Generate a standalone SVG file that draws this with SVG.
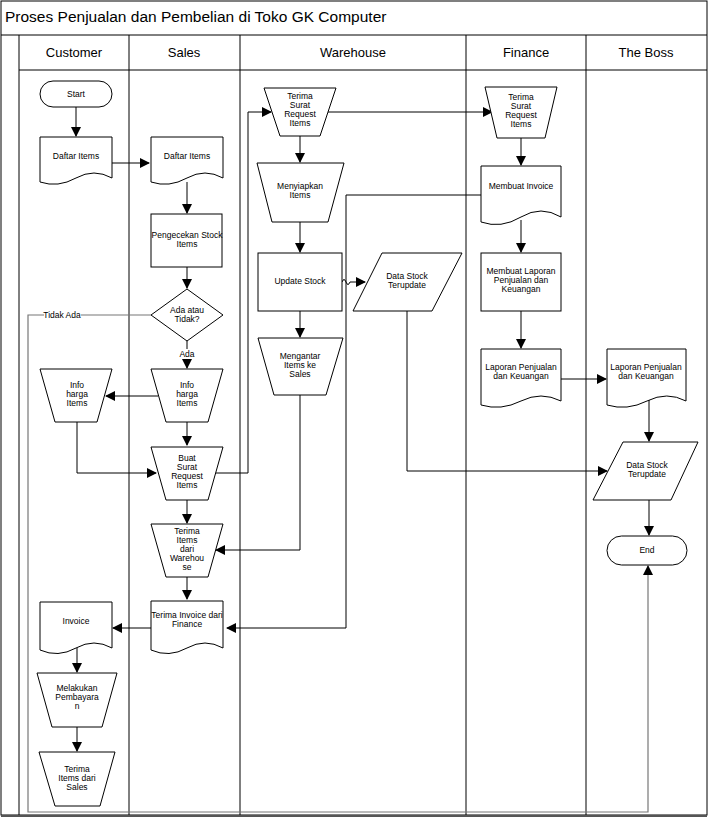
<svg xmlns="http://www.w3.org/2000/svg" width="710" height="823" viewBox="0 0 710 823">
<defs>
<marker id="ah" markerWidth="10" markerHeight="10" refX="9" refY="5" orient="auto" markerUnits="userSpaceOnUse"><path d="M0,0 L10,5 L0,10 z" fill="#000"/></marker>
<style>
.s{fill:#fff;stroke:#000;stroke-width:1}
.t{font-family:"Liberation Sans",Arial,sans-serif;font-size:8.5px;text-anchor:middle;fill:#000}
.h{font-family:"Liberation Sans",Arial,sans-serif;font-size:13px;text-anchor:middle;fill:#000}
.c{fill:none;stroke:#000;stroke-width:1;marker-end:url(#ah)}
.g{fill:none;stroke:#777;stroke-width:1.2}
.ln{fill:none;stroke:#000;stroke-width:1}
</style>
</defs>
<rect width="710" height="823" fill="#fff"/>
<g id="frame">
<rect x="1" y="1" width="706" height="814" class="s"/>
<line x1="1" y1="35" x2="707" y2="35" class="ln"/>
<line x1="19" y1="35" x2="19" y2="815" class="ln"/>
<line x1="19" y1="70" x2="707" y2="70" class="ln"/>
<line x1="129" y1="35" x2="129" y2="815" class="ln"/>
<line x1="240" y1="35" x2="240" y2="815" class="ln"/>
<line x1="466" y1="35" x2="466" y2="815" class="ln"/>
<line x1="586" y1="35" x2="586" y2="815" class="ln"/>
<line x1="1" y1="816" x2="707" y2="816" stroke="#555" stroke-width="2"/>
<text x="5" y="22" font-family="Liberation Sans,Arial,sans-serif" font-size="15.5px">Proses Penjualan dan Pembelian di Toko GK Computer</text>
<text x="74" y="57" class="h">Customer</text>
<text x="184" y="57" class="h">Sales</text>
<text x="353" y="57" class="h">Warehouse</text>
<text x="526" y="57" class="h">Finance</text>
<text x="646" y="57" class="h">The Boss</text>
</g>
<g id="connectors">
<path d="M151,315 H28 V812 H648 V566" class="g" marker-end="url(#ah)"/>
<rect x="44" y="310" width="37" height="10" fill="#fff"/>
<text x="62" y="318" class="t">Tidak Ada</text>
<path d="M76,107 V136" class="c"/>
<path d="M112,163 H149" class="c"/>
<path d="M187,182 V213" class="c"/>
<path d="M187,267 V288" class="c"/>
<path d="M187,341 V368" class="c"/>
<rect x="178" y="349" width="18" height="10" fill="#fff"/>
<text x="187" y="357" class="t">Ada</text>
<path d="M158,396 H106" class="c" stroke="#666"/>
<path d="M77,422 V473 H156" class="c"/>
<path d="M187,422 V445" class="c"/>
<path d="M214,473 H248 V112 H271" class="c"/>
<path d="M328,112 H492" class="c"/>
<path d="M300,136 V162" class="c"/>
<path d="M300,222 V252" class="c"/>
<path d="M342,282 Q344,277 346,282 T350,282 H365" class="c"/>
<path d="M300,311 V337" class="c"/>
<path d="M300,395 V550 H216" class="c"/>
<path d="M187,500 V523" class="c"/>
<path d="M187,577 V599" class="c"/>
<path d="M481,195 H346 V628 H227" class="c"/>
<path d="M151,628 H113" class="c"/>
<path d="M77,648 V672" class="c"/>
<path d="M77,727 V751" class="c"/>
<path d="M521,138 V165" class="c"/>
<path d="M521,220 V252" class="c"/>
<path d="M521,311 V348" class="c"/>
<path d="M561,379 H606" class="c"/>
<path d="M649,400 V441" class="c"/>
<path d="M407,311 V471 H607" class="c"/>
<path d="M649,500 V535" class="c"/>
</g>
<g id="start"><rect x="40" y="81" width="72" height="26" rx="13" class="s"/><text x="76" y="97" class="t">Start</text></g>
<g id="daftar-c"><path d="M40,137 H112 V178 Q94,168 76,178 T40,182 Z" class="s"/><text x="76" y="159" class="t">Daftar Items</text></g>
<g id="daftar-s"><path d="M151,137 H223 V178 Q205,168 187,178 T151,182 Z" class="s"/><text x="187" y="159" class="t">Daftar Items</text></g>
<g id="pengecekan"><rect x="151" y="214" width="71" height="53" class="s"/><text x="187" y="238" class="t">Pengecekan Stock</text><text x="187" y="247" class="t">Items</text></g>
<g id="decision"><path d="M187,289 L223,315 L187,341 L151,315 Z" class="s"/><text x="187" y="313" class="t">Ada atau</text><text x="187" y="322" class="t">Tidak?</text></g>
<g id="info-s"><path d="M151,369 H223 L208,422 H166 Z" class="s"/><text x="187" y="388" class="t">Info</text><text x="187" y="397" class="t">harga</text><text x="187" y="406" class="t">Items</text></g>
<g id="info-c"><path d="M40,369 H112 L97,422 H55 Z" class="s"/><text x="77" y="388" class="t">Info</text><text x="77" y="397" class="t">harga</text><text x="77" y="406" class="t">Items</text></g>
<g id="buat"><path d="M151,447 H223 L208,500 H166 Z" class="s"/><text x="187" y="461" class="t">Buat</text><text x="187" y="470" class="t">Surat</text><text x="187" y="479" class="t">Request</text><text x="187" y="488" class="t">Items</text></g>
<g id="terima-items-wh"><path d="M151,524 H223 L208,577 H166 Z" class="s"/><text x="187" y="534" class="t">Terima</text><text x="187" y="543" class="t">Items</text><text x="187" y="552" class="t">dari</text><text x="187" y="561" class="t">Warehou</text><text x="187" y="570" class="t">se</text></g>
<g id="terima-invoice"><path d="M151,601 H223 V648 Q205,638 187,648 T151,650 Z" class="s"/><text x="187" y="618" class="t">Terima Invoice dari</text><text x="187" y="627" class="t">Finance</text></g>
<g id="invoice"><path d="M40,602 H112 V648 Q94,638 76,648 T40,650 Z" class="s"/><text x="76" y="624" class="t">Invoice</text></g>
<g id="bayar"><path d="M37,673 H117 L102,727 H52 Z" class="s"/><text x="77" y="691" class="t">Melakukan</text><text x="77" y="700" class="t">Pembayara</text><text x="77" y="709" class="t">n</text></g>
<g id="terima-items-sales"><path d="M39,752 H115 L100,806 H55 Z" class="s"/><text x="77" y="772" class="t">Terima</text><text x="77" y="781" class="t">Items dari</text><text x="77" y="790" class="t">Sales</text></g>
<g id="terima-surat-w"><path d="M264,88 H336 L320,136 H280 Z" class="s"/><text x="300" y="99" class="t">Terima</text><text x="300" y="108" class="t">Surat</text><text x="300" y="117" class="t">Request</text><text x="300" y="126" class="t">Items</text></g>
<g id="menyiapkan"><path d="M257,163 H344 L328,222 H272 Z" class="s"/><text x="300" y="189" class="t">Menyiapkan</text><text x="300" y="198" class="t">Items</text></g>
<g id="update"><rect x="258" y="253" width="84" height="58" class="s"/><text x="300" y="284" class="t">Update Stock</text></g>
<g id="mengantar"><path d="M258,338 H343 L326,395 H274 Z" class="s"/><text x="300" y="359" class="t">Mengantar</text><text x="300" y="368" class="t">Items ke</text><text x="300" y="377" class="t">Sales</text></g>
<g id="datastock-w"><path d="M382,253 H462 L432,311 H353 Z" class="s"/><text x="407" y="279" class="t">Data Stock</text><text x="407" y="288" class="t">Terupdate</text></g>
<g id="terima-surat-f"><path d="M485,87 H557 L545,138 H497 Z" class="s"/><text x="521" y="100" class="t">Terima</text><text x="521" y="109" class="t">Surat</text><text x="521" y="118" class="t">Request</text><text x="521" y="127" class="t">Items</text></g>
<g id="membuat-invoice"><path d="M481,166 H561 V217 Q541,205 521,217 T481,222 Z" class="s"/><text x="521" y="189" class="t">Membuat Invoice</text></g>
<g id="membuat-laporan"><rect x="481" y="253" width="80" height="58" class="s"/><text x="521" y="274" class="t">Membuat Laporan</text><text x="521" y="283" class="t">Penjualan dan</text><text x="521" y="292" class="t">Keuangan</text></g>
<g id="laporan-f"><path d="M481,349 H561 V401 Q541,391 521,401 T481,405 Z" class="s"/><text x="521" y="370" class="t">Laporan Penjualan</text><text x="521" y="379" class="t">dan Keuangan</text></g>
<g id="laporan-b"><path d="M607,349 H686 V401 Q667,391 647,401 T607,405 Z" class="s"/><text x="646" y="370" class="t">Laporan Penjualan</text><text x="646" y="379" class="t">dan Keuangan</text></g>
<g id="datastock-b"><path d="M623,442 H698 L671,500 H593 Z" class="s"/><text x="647" y="468" class="t">Data Stock</text><text x="647" y="477" class="t">Terupdate</text></g>
<g id="end"><rect x="607" y="536" width="80" height="29" rx="14.5" class="s"/><text x="647" y="553" class="t">End</text></g>
</svg>
